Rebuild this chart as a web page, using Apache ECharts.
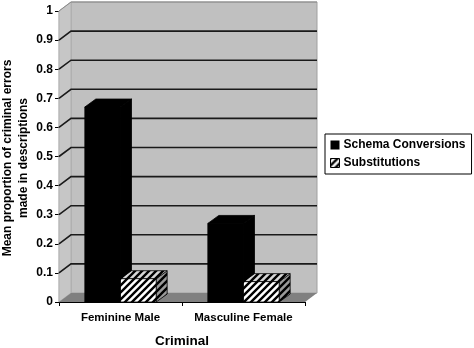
<!DOCTYPE html>
<html>
<head>
<meta charset="utf-8">
<script src="https://cdn.jsdelivr.net/npm/echarts@6/dist/echarts.min.js"></script>
<style>html,body{margin:0;padding:0;background:#fff;}#c{width:474px;height:348px;}</style>
</head>
<body>
<div id="c"></div>
<script>
const categories = ['Feminine Male', 'Masculine Female'];
const schemaConversions = [0.67, 0.27];
const substitutions = [0.08, 0.07];
const yTicks = [0.1, 0.2, 0.3, 0.4, 0.5, 0.6, 0.7, 0.8, 0.9, 1.0];

const FONT = '"Liberation Sans", Arial, Helvetica, sans-serif';
const DX = 12, DY = 9;    // wall depth
const BDX = 11, BDY = 8;  // bar depth

function hatch(bg) {
  const cv = document.createElement('canvas');
  cv.width = 7; cv.height = 7;
  const g = cv.getContext('2d');
  g.fillStyle = bg; g.fillRect(0, 0, 7, 7);
  g.strokeStyle = '#000'; g.lineWidth = 2.4;
  g.beginPath();
  g.moveTo(-2, 2); g.lineTo(2, -2);
  g.moveTo(0, 7); g.lineTo(7, 0);
  g.moveTo(5, 9); g.lineTo(9, 5);
  g.stroke();
  return { image: cv, repeat: 'repeat' };
}
const hatchFront = hatch('#ffffff');
const hatchTop = hatch('#d8d8d8');
const hatchSide = hatch('#9a9a9a');

function wallRender(params, api) {
  const cs = params.coordSys;
  const x0 = cs.x, x1 = cs.x + cs.width, yT = cs.y, yB = cs.y + cs.height;
  const ch = [];
  ch.push({ type: 'rect', shape: { x: x0 + DX, y: yT - DY, width: x1 - x0, height: yB - yT }, style: { fill: '#c0c0c0', stroke: '#a0a0a0', lineWidth: 1 } });
  ch.push({ type: 'polygon', shape: { points: [[x0, yT], [x0 + DX, yT - DY], [x0 + DX, yB - DY], [x0, yB]] }, style: { fill: '#c6c6c6', stroke: '#b0b0b0', lineWidth: 1 } });
  ch.push({ type: 'polygon', shape: { points: [[x0, yB], [x0 + DX, yB - DY], [x1 + DX, yB - DY], [x1, yB]] }, style: { fill: '#808080' } });
  yTicks.forEach(function (v) {
    const y = api.coord([0, v])[1];
    const top = v >= 1;
    ch.push({ type: 'polyline', shape: { points: [[x0, y], [x0 + DX, y - DY], [x1 + DX, y - DY]] }, style: { stroke: top ? '#8a8a8a' : '#1a1a1a', lineWidth: top ? 1 : 1.6, fill: null } });
  });
  return { type: 'group', children: ch };
}

function barRender(side, front, top, right) {
  return function (params, api) {
    const cat = api.value(0), v = api.value(1);
    const c = api.coord([cat, v]);
    const b = api.coord([cat, 0]);
    const w = api.size([1, 0])[0] * 0.29;
    const xl = side === 0 ? c[0] - w : c[0];
    const xr = xl + w, yt = c[1], yb = b[1];
    return { type: 'group', children: [
      { type: 'polygon', shape: { points: [[xr, yt], [xr + BDX, yt - BDY], [xr + BDX, yb - BDY], [xr, yb]] }, style: { fill: right, stroke: '#000', lineWidth: 0.8 } },
      { type: 'polygon', shape: { points: [[xl, yt], [xl + BDX, yt - BDY], [xr + BDX, yt - BDY], [xr, yt]] }, style: { fill: top, stroke: '#000', lineWidth: 0.8 } },
      { type: 'rect', shape: { x: xl, y: yt, width: w, height: yb - yt }, style: { fill: front, stroke: '#000', lineWidth: 0.8 } }
    ] };
  };
}

const chart = echarts.init(document.getElementById('c'), null, { renderer: 'canvas' });
chart.setOption({
  animation: false,
  backgroundColor: '#fff',
  textStyle: { fontFamily: FONT },
  grid: { left: 59, right: 169, top: 11, bottom: 46, containLabel: false, outerBoundsMode: 'none' },
  legend: {
    orient: 'vertical', left: 325, top: 134,
    padding: [5, 6, 5, 5], itemGap: 6, itemWidth: 9, itemHeight: 9,
    borderColor: '#000', borderWidth: 1, backgroundColor: '#fff',
    textStyle: { fontFamily: FONT, fontWeight: 'bold', fontSize: 12, color: '#000', padding: [0, 0, 0, -1] },
    data: [
      { name: 'Schema Conversions', icon: 'rect', itemStyle: { color: '#000' } },
      { name: 'Substitutions', icon: 'rect', itemStyle: { color: hatchFront, borderColor: '#000', borderWidth: 1 } }
    ]
  },
  xAxis: {
    type: 'category', data: categories,
    axisLine: { lineStyle: { color: '#000', width: 1.2 } },
    axisTick: { show: true, length: 4, lineStyle: { color: '#000' } },
    axisLabel: { color: '#000', fontWeight: 'bold', fontSize: 11.5, fontFamily: FONT, margin: 10, interval: 0 },
    name: 'Criminal', nameLocation: 'middle', nameGap: 32,
    nameTextStyle: { color: '#000', fontWeight: 'bold', fontSize: 13.5, fontFamily: FONT }
  },
  yAxis: {
    type: 'value', min: 0, max: 1, interval: 0.1,
    axisLine: { show: true, lineStyle: { color: '#000', width: 1.2 } },
    axisTick: { show: true, length: 4, lineStyle: { color: '#000' } },
    splitLine: { show: false },
    axisLabel: { color: '#000', fontWeight: 'bold', fontSize: 12, fontFamily: FONT, margin: 6,
      formatter: function (v) { return String(Math.round(v * 10) / 10); } }
  },
  graphic: [{
    type: 'text', rotation: Math.PI / 2,
    x: 16, y: 158,
    style: { text: 'Mean proportion of criminal errors\nmade in descriptions', fill: '#000',
      font: 'bold 12px ' + FONT, textAlign: 'center', textVerticalAlign: 'middle', lineHeight: 16 }
  }],
  series: [
    { type: 'custom', name: '_walls', renderItem: wallRender, data: [[0, 0]], z: 1, silent: true, encode: { x: 0, y: 1 } },
    { type: 'custom', name: 'Schema Conversions', renderItem: barRender(0, '#000', '#000', '#000'),
      itemStyle: { color: '#000' }, z: 3,
      data: categories.map(function (c, i) { return [i, schemaConversions[i]]; }), encode: { x: 0, y: 1 } },
    { type: 'custom', name: 'Substitutions', renderItem: barRender(1, hatchFront, hatchTop, hatchSide),
      itemStyle: { color: hatchFront }, z: 4,
      data: categories.map(function (c, i) { return [i, substitutions[i]]; }), encode: { x: 0, y: 1 } }
  ]
});
</script>
</body>
</html>
